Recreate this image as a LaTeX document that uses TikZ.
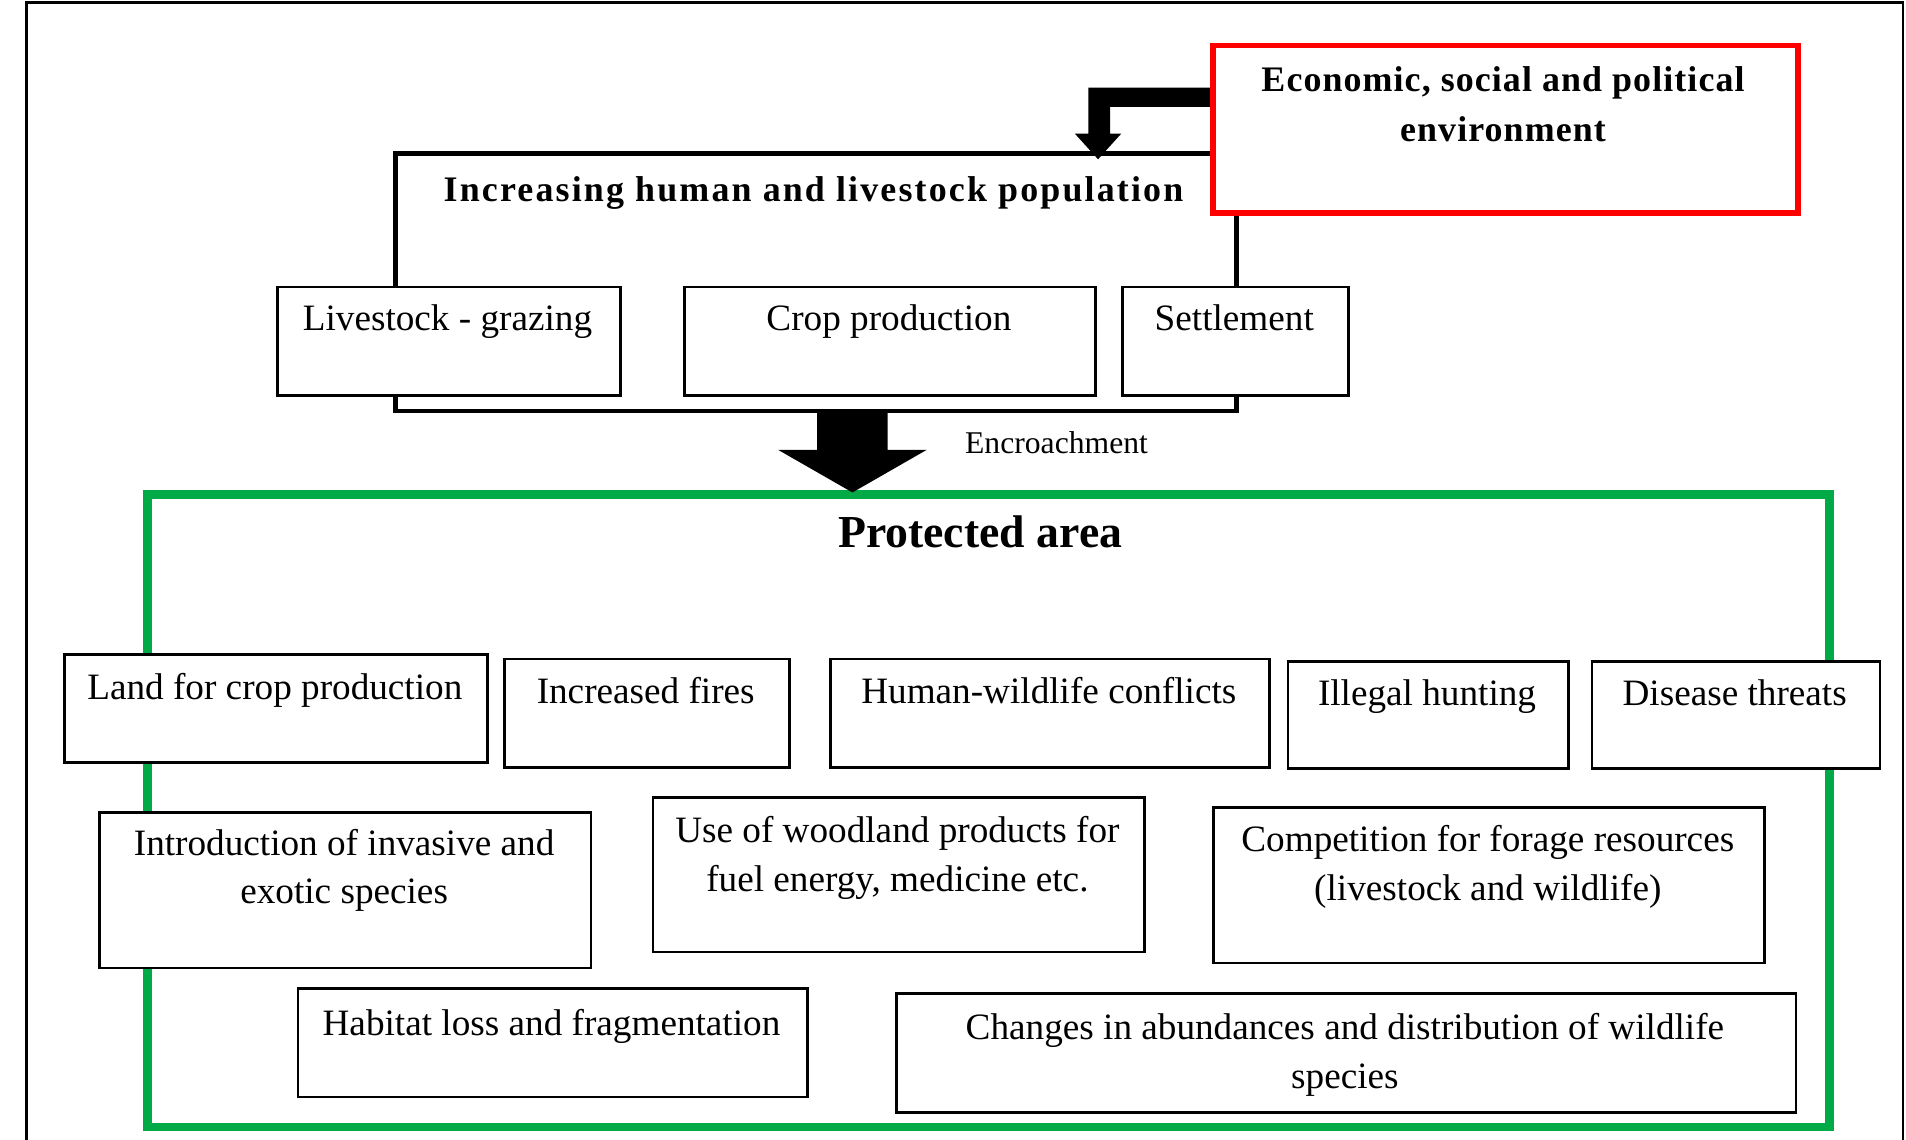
\documentclass[tikz,border=0pt]{standalone}
\usepackage{fontspec}
\setmainfont{Liberation Serif}
\begin{document}
\begin{tikzpicture}[x=0.01cm,y=-0.01cm,
  box/.style={draw,fill=white,line width=0.6pt,inner sep=0pt},
  txt/.style={inner sep=0pt,align=center,anchor=north,font=\fontsize{8.7}{11.4}\selectfont},
  frame/.style={line width=1.1pt}]
\useasboundingbox (0,0) rectangle (1567.4,937.5);
\draw[line width=0.6pt] (22,940) -- (22,2) -- (1565,2) -- (1565,940);
\newcommand\bx[7]{%
  \node[box,minimum width={(#4-#2)*0.01cm},minimum height={(#5-#3)*0.01cm},anchor=north west] (#1) at (#2,#3) {};
  \node[txt] (#1t) at ({(#2+#4)/2},#7-12) {#6};}
% population frame
\coordinate (pf1) at (325,126); \coordinate (pf2) at (1017,338);
\draw[frame] (pf1 |- pf2) -- (pf1) -- (pf1 -| pf2) -- (pf2) -- cycle;
\node[inner sep=0pt,font=\bfseries\fontsize{8.4}{10}\selectfont,anchor=base] (pop) at (669,166) {\addfontfeature{LetterSpace=6}Increasing human and livestock population};
% red box
\node[draw=red,line width=1.3pt,fill=white,minimum width=4.81cm,minimum height=1.38cm,anchor=north west] (env) at (995,35) {};
\node[txt,font=\bfseries\fontsize{8.4}{11.8}\selectfont] (envt) at (1236,54) {{\addfontfeature{LetterSpace=3}Economic, social and political}\\{\addfontfeature{LetterSpace=3}environment}};
% top arrow
\fill (env.west |- 0,72) -- (895,72) -- (895,110) -- (884,110) -- (903,131) -- (922,110) -- (913,110) -- (913,88) -- (env.west |- 0,88) -- cycle;
\bx{ls}{227}{235}{509}{324}{Livestock - grazing}{262}
\bx{cp}{562}{235}{900}{324}{Crop production}{262}
\bx{st}{922}{235}{1108}{324}{Settlement}{262}
% green box
\node[draw={rgb,255:red,0;green,170;blue,70},line width=2pt,minimum width=13.82cm,minimum height=5.2cm,anchor=north west] (pa) at (118,403) {};
% encroachment arrow
\fill (672,338) -- (730,338) -- (730,370) -- (762,370) -- (701,405) -- (640,370) -- (672,370) -- cycle;
\node[inner sep=0pt,anchor=base west,font=\fontsize{7.4}{9}\selectfont] (enc) at (793,373) {Encroachment};
\node[inner sep=0pt,anchor=base,font=\bfseries\fontsize{10.7}{12}\selectfont] (pat) at (806,450) {Protected area};
\bx{a}{52}{537}{400}{626}{Land for crop production}{565}
\bx{b}{414}{541}{648}{630}{Increased fires}{568}
\bx{c}{682}{541}{1043}{630}{Human-wildlife conflicts}{568}
\bx{d}{1058}{543}{1289}{631}{Illegal hunting}{570}
\bx{e}{1308}{543}{1545}{631}{Disease threats}{570}
\bx{f}{81}{667}{485}{795}{Introduction of invasive and\\exotic species}{693}
\bx{g}{536}{655}{940}{782}{Use of woodland products for\\fuel energy, medicine etc.}{683}
\bx{h}{997}{663}{1450}{791}{Competition for forage resources\\(livestock and wildlife)}{690}
\bx{i}{244}{812}{663}{901}{Habitat loss and fragmentation}{841}
\bx{j}{736}{816}{1476}{914}{Changes in abundances and distribution of wildlife\\species}{845}
\end{tikzpicture}
\end{document}
